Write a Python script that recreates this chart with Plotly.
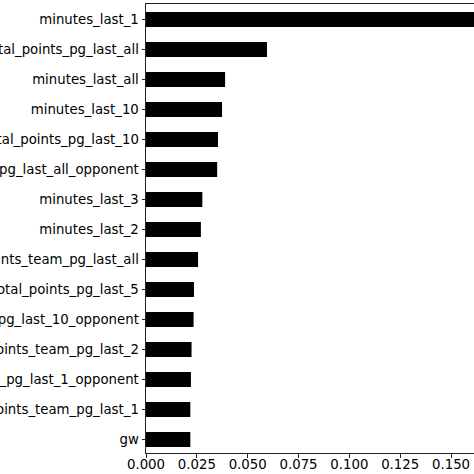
import plotly.graph_objects as go

features = [
    "minutes_last_1",
    "total_points_pg_last_all",
    "minutes_last_all",
    "minutes_last_10",
    "total_points_pg_last_10",
    "total_points_pg_last_all_opponent",
    "minutes_last_3",
    "minutes_last_2",
    "total_points_team_pg_last_all",
    "total_points_pg_last_5",
    "total_points_pg_last_10_opponent",
    "total_points_team_pg_last_2",
    "total_points_pg_last_1_opponent",
    "total_points_team_pg_last_1",
    "gw",
]
importance = [0.175, 0.0595, 0.0389, 0.0374, 0.0354, 0.0350, 0.0277, 0.0270,
              0.0256, 0.0236, 0.0234, 0.0224, 0.0221, 0.0218, 0.0218]
x_ticks = [0.0, 0.025, 0.05, 0.075, 0.1, 0.125, 0.15]
x_tick_text = ["0.000", "0.025", "0.050", "0.075", "0.100", "0.125", "0.150"]

fig = go.Figure(go.Bar(
    x=importance, y=features, orientation="h",
    marker=dict(color="black", line=dict(width=0)),
    width=0.5,
    hoverinfo="skip",
))

font = dict(family="DejaVu Sans", size=13.3, color="black")
fig.update_layout(
    width=474, height=474,
    margin=dict(l=146, r=0, t=3.5, b=20.5, pad=0),
    plot_bgcolor="white", paper_bgcolor="white",
    showlegend=False,
    font=font,
)
fig.update_xaxes(
    range=[0, 0.1613], tickvals=x_ticks, ticktext=x_tick_text,
    showgrid=False, zeroline=False, showline=True, linecolor="#222", linewidth=1,
    mirror=True, ticks="outside", ticklen=3.5, tickcolor="#222", automargin=False,
    tickfont=font, ticklabelstandoff=-4,
)
fig.update_yaxes(
    type="category", categoryorder="array", categoryarray=features,
    range=[14.45, -0.515],
    showgrid=False, zeroline=False, showline=True, linecolor="#222", linewidth=1,
    ticks="outside", ticklen=3.5, tickcolor="#222", automargin=False,
    tickfont=font, ticklabelstandoff=0,
)
fig.write_html("out.html", config={"displayModeBar": False, "staticPlot": True},
               post_script="document.body.style.margin='0';document.body.style.overflow='hidden';")
